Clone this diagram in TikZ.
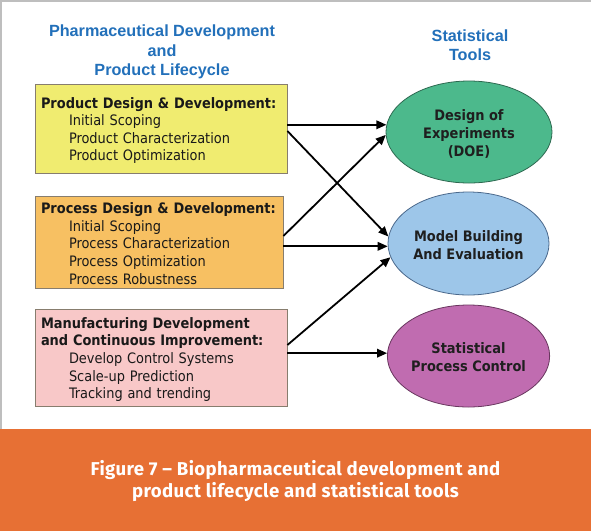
\documentclass[tikz,border=0pt]{standalone}
\usepackage{fontspec}
\setmainfont{DejaVu Sans Condensed}
\newfontfamily\titlefont{Liberation Sans}
\newfontfamily\capfont{Fira Sans}[LetterSpace=2]
\usetikzlibrary{arrows.meta,shapes.geometric}
\definecolor{titleblue}{RGB}{34,112,186}
\definecolor{bandorange}{RGB}{231,112,52}
\definecolor{framegray}{RGB}{190,190,190}
\definecolor{yelfill}{RGB}{240,236,112}
\definecolor{orfill}{RGB}{247,192,98}
\definecolor{pkfill}{RGB}{248,200,200}
\definecolor{boxdraw}{RGB}{135,125,110}
\definecolor{doefill}{RGB}{76,185,140}
\definecolor{doedraw}{RGB}{45,105,80}
\definecolor{modelfill}{RGB}{157,198,233}
\definecolor{modeldraw}{RGB}{75,105,140}
\definecolor{spcfill}{RGB}{192,108,176}
\definecolor{spcdraw}{RGB}{105,55,95}
\newcommand{\ind}{\hspace*{28pt}}
\newcommand{\topstrut}[1]{\rule{0pt}{#1}}
\begin{document}
\begin{tikzpicture}[x=1pt,y=-1pt,
  headtitle/.style={anchor=base,inner sep=0pt,text=titleblue,font=\titlefont\bfseries\fontsize{16.2}{19.5}\selectfont},
  lbox/.style={rectangle,draw=boxdraw,line width=0.8pt,inner xsep=6pt,inner ysep=0pt,align=left,text=black!90,font=\fontsize{14.4}{17.6}\selectfont},
  tool/.style={ellipse,line width=0.8pt,inner sep=0pt,align=center,text=black!88,font=\bfseries\fontsize{14.4}{18}\selectfont},
  conn/.style={line width=1.8pt,black,-{Triangle[length=10pt,width=8.5pt]}},
  captext/.style={anchor=base,inner sep=0pt,text=white,font=\capfont\bfseries\fontsize{18.6}{24}\selectfont}]
\useasboundingbox (0,0) rectangle (591,531);
\fill[white] (0,0) rectangle (591,531);
\draw[framegray,line width=1.5pt] (0.75,429) -- (0.75,0.75) -- (591,0.75);
\fill[bandorange] (0,429) rectangle (591,531);
% titles
\node[headtitle] (t1) at (162,36.7) {Pharmaceutical Development};
\node[headtitle] (t2) at (162,56.2) {and};
\node[headtitle] (t3) at (162,75.7) {Product Lifecycle};
\node[headtitle] (s1) at (470,41) {Statistical};
\node[headtitle] (s2) at (470,60.3) {Tools};
% boxes
\node[lbox,fill=yelfill,text width=240pt,minimum height=89pt] (yel) at (161,128.5)
  {\topstrut{15pt}\textbf{Product Design \& Development:}\\\ind Initial Scoping\\\ind Product Characterization\\\ind Product Optimization};
\node[lbox,fill=orfill,text width=236pt,minimum height=92pt] (or) at (159,242)
  {\topstrut{14pt}\textbf{Process Design \& Development:}\\\ind Initial Scoping\\\ind Process Characterization\\\ind Process Optimization\\\ind Process Robustness};
\node[lbox,fill=pkfill,text width=240pt,minimum height=97pt] (pk) at (161,357.5)
  {\topstrut{15pt}\textbf{Manufacturing Development}\\\textbf{and Continuous Improvement:}\\\ind Develop Control Systems\\\ind Scale-up Prediction\\\ind Tracking and trending};
% tools
\node[tool,fill=doefill,draw=doedraw,minimum width=166pt,minimum height=102pt] (doe) at (469,132) {\topstrut{15pt}Design of\\Experiments\\(DOE)};
\node[tool,fill=modelfill,draw=modeldraw,minimum width=161pt,minimum height=103pt] (model) at (468.5,243.5) {\topstrut{15pt}Model Building\\And Evaluation};
\node[tool,fill=spcfill,draw=spcdraw,minimum width=161pt,minimum height=102pt] (spc) at (468.5,356) {\topstrut{13pt}Statistical\\Process Control};
% connectors
\draw[conn] (yel.east |- doe.175) -- (doe.175);
\draw[conn] ([yshift=-2.5pt]yel.east) -- (model.175);
\draw[conn] ([yshift=6pt]or.east) -- (doe.182);
\draw[conn] (or.east |- model.182) -- (model.182);
\draw[conn] ([yshift=12.5pt]pk.east) -- (model.190);
\draw[conn] (pk.east |- spc.178) -- (spc.178);
% caption
\node[captext] (c1) at (295.5,475.5) {Figure 7 – Biopharmaceutical development and};
\node[captext] (c2) at (295.5,497.5) {product lifecycle and statistical tools};
\end{tikzpicture}
\end{document}
